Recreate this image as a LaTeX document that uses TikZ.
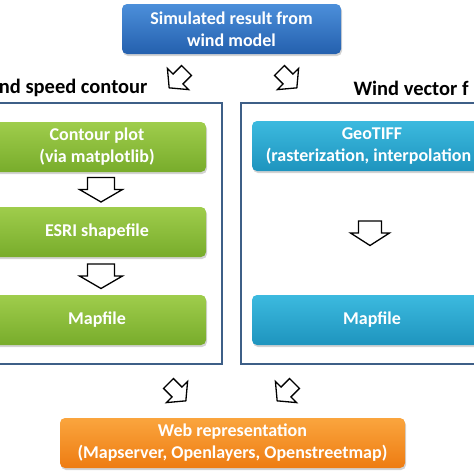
\documentclass[tikz,border=0pt]{standalone}
\usepackage{fontspec}
\setmainfont{Carlito}
\usepackage{tikz}
\usetikzlibrary{calc,shadows}

\definecolor{simtop}{HTML}{4C8FDA}
\definecolor{simbot}{HTML}{2460AE}
\definecolor{grntop}{HTML}{9FCD4C}
\definecolor{grnbot}{HTML}{78AC2B}
\definecolor{cyntop}{HTML}{3CBADF}
\definecolor{cynbot}{HTML}{1E94BE}
\definecolor{orgtop}{HTML}{FAA53E}
\definecolor{orgbot}{HTML}{EE7C12}
\definecolor{panelline}{HTML}{3E5F87}

\tikzset{
  stepbox/.style={rounded corners=5pt, minimum height=50pt, align=center,
    inner sep=2pt, text=white, font=\fontsize{18}{22}\selectfont\bfseries,
    drop shadow={shadow xshift=1pt, shadow yshift=-2pt, opacity=0.35}},
  heading/.style={font=\fontsize{20.5}{24}\selectfont\bfseries},
  panel/.style={draw=panelline, line width=1.4pt},
  blockarrow/.pic={
    \draw[line width=1.3pt, fill=white, line join=miter]
      (-#1,-12) -- (#1,-12) -- (#1,0) -- (#1+8,0) -- (0,12.5) -- (-#1-8,0) -- (-#1,0) -- cycle;
  }
}

\begin{document}
\begin{tikzpicture}[x=1pt,y=-1pt]
  \useasboundingbox (0,0) rectangle (474,474);

  % boxes
  \node[stepbox, minimum width=219pt, top color=simtop, bottom color=simbot] (sim) at (231.5,29) {Simulated result from\\wind model};

  \draw[panel] (-10,103) rectangle (222,364);
  \draw[panel] (241,103) rectangle (490,364);
  \node[heading, anchor=east] (headL) at (151,88) {nd speed contour};
  \node[heading, anchor=west] (headR) at (350,88) {Wind vector f};

  \node[stepbox, minimum width=218pt, top color=grntop, bottom color=grnbot] (contour) at (97,147) {Contour plot\\(via matplotlib)};
  \node[stepbox, minimum width=218pt, top color=grntop, bottom color=grnbot] (esri) at (97,232) {ESRI shapefile};
  \node[stepbox, minimum width=218pt, top color=grntop, bottom color=grnbot] (mapL) at (97,320) {Mapfile};

  \node[stepbox, minimum width=240pt, top color=cyntop, bottom color=cynbot] (geotiff) at (372,146) {GeoTIFF\\(rasterization, interpolation\hspace*{7pt}};
  \node[stepbox, minimum width=240pt, top color=cyntop, bottom color=cynbot] (mapR) at (372,320) {Mapfile};

  \node[stepbox, minimum width=345pt, top color=orgtop, bottom color=orgbot] (web) at (232.5,443) {Web representation\\(Mapserver, Openlayers, Openstreetmap)};

  % arrows inside the panels
  \pic at ($(contour.south)!0.5!(esri.north)+(4,0)$) {blockarrow=13.5};
  \pic at ($(esri.south)!0.5!(mapL.north)+(4,0)$) {blockarrow=13.5};
  \pic at ($(geotiff.south)!0.5!(mapR.north)-(2,0)$) {blockarrow=11.5};

  % arrows between the panels
  \pic[rotate=-45] at (178,79) {blockarrow=7};
  \pic[rotate=45] at (288,79) {blockarrow=7};
  \pic[rotate=45] at (177,392) {blockarrow=7};
  \pic[rotate=-45] at (286,392) {blockarrow=7};
\end{tikzpicture}
\end{document}
